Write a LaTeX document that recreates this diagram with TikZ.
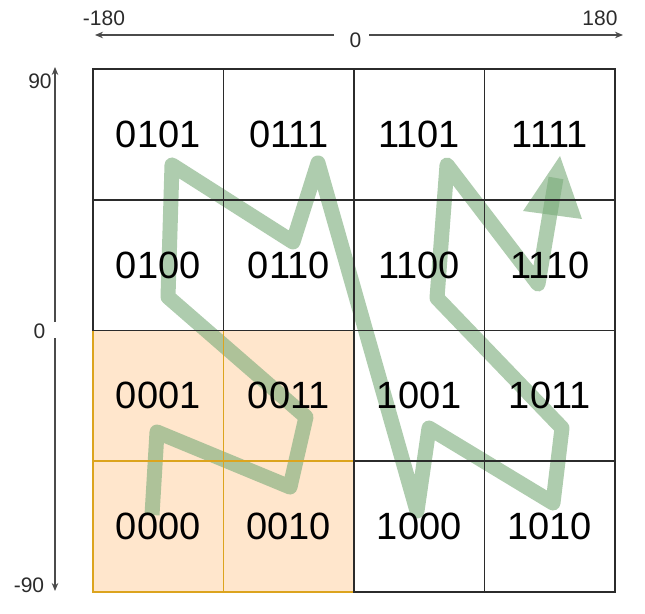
\documentclass[tikz,border=0pt]{standalone}
\usepackage{fontspec}
\setmainfont{Liberation Sans}
\usetikzlibrary{arrows.meta}
\definecolor{gridc}{HTML}{2B2B2B}
\definecolor{orfill}{HTML}{FFE6CC}
\definecolor{orline}{HTML}{DCA41E}
\definecolor{pathg}{RGB}{120,170,120}
\pgfdeclarelayer{fills}
\pgfdeclarelayer{route}
\pgfsetlayers{fills,route,main}
\begin{document}
\begin{tikzpicture}[x=1pt,y=-1pt,
  cell/.style={draw=gridc,line width=1.7pt,minimum width=130.5pt,minimum height=130.75pt,inner sep=0pt,font=\fontsize{38}{44}\selectfont},
  ocell/.style={cell,draw=orline,line width=1.5pt},
  axlab/.style={font=\fontsize{21}{25}\selectfont,text=gridc,inner sep=0pt},
  axis/.style={draw=gridc!85,line width=1.1pt,-{Stealth[length=8pt,width=6.5pt]}},
  route/.style={draw=pathg,line width=15pt,opacity=0.6,line join=round},
  routehead/.style={fill=pathg,opacity=0.6}]
\useasboundingbox (0,0) rectangle (645,613);
% orange cells
\node[ocell] (c0001) at (158.25,395.9) {0001};
\node[ocell] (c0011) at (288.75,395.9) {0011};
\node[ocell] (c0000) at (158.25,526.6) {0000};
\node[ocell] (c0010) at (288.75,526.6) {0010};
% white cells
\node[cell] (c0101) at (158.25,134.4) {0101};
\node[cell] (c0111) at (288.75,134.4) {0111};
\node[cell] (c1101) at (419.25,134.4) {1101};
\node[cell] (c1111) at (549.75,134.4) {1111};
\node[cell] (c0100) at (158.25,265.1) {0100};
\node[cell] (c0110) at (288.75,265.1) {0110};
\node[cell] (c1100) at (419.25,265.1) {1100};
\node[cell] (c1110) at (549.75,265.1) {1110};
\node[cell] (c1001) at (419.25,395.9) {1001};
\node[cell] (c1011) at (549.75,395.9) {1011};
\node[cell] (c1000) at (419.25,526.6) {1000};
\node[cell] (c1010) at (549.75,526.6) {1010};
\begin{pgfonlayer}{fills}
\fill[orfill] (c0001.north west) rectangle (c0010.south east);
\end{pgfonlayer}
\begin{pgfonlayer}{route}
\draw[route] (152,515) -- (157,432) -- (290,487) -- (306,417) -- (168,297)
  -- (172,165) -- (293,242) -- (318,163) -- (417,511) -- (429,428)
  -- (553,503) -- (562,428) -- (437,298) -- (447,165) -- (538,284) -- (556,178);
\fill[routehead] (560,156) -- (523,211) -- (582,219) -- cycle;
\end{pgfonlayer}
% axes
\coordinate (tL) at (95,35);
\coordinate (tR) at (623,35);
\coordinate (tgL) at (334,35);
\coordinate (tgR) at (369,35);
\draw[axis] (tgL) -- (tL);
\draw[axis] (tgR) -- (tR);
\node[axlab] (lx0) at (355.5,40) {0};
\node[axlab] (lxm) at (104,18) {-180};
\node[axlab] (lxp) at (600,18) {180};
\coordinate (vT) at (55,67);
\coordinate (vB) at (55,591);
\coordinate (vgT) at (55,322);
\coordinate (vgB) at (55,338);
\draw[axis] (vgT) -- (vT);
\draw[axis] (vgB) -- (vB);
\node[axlab] (ly90) at (40,81) {90};
\node[axlab] (ly0) at (39.5,331) {0};
\node[axlab] (lym) at (29,585) {-90};
\end{tikzpicture}
\end{document}
